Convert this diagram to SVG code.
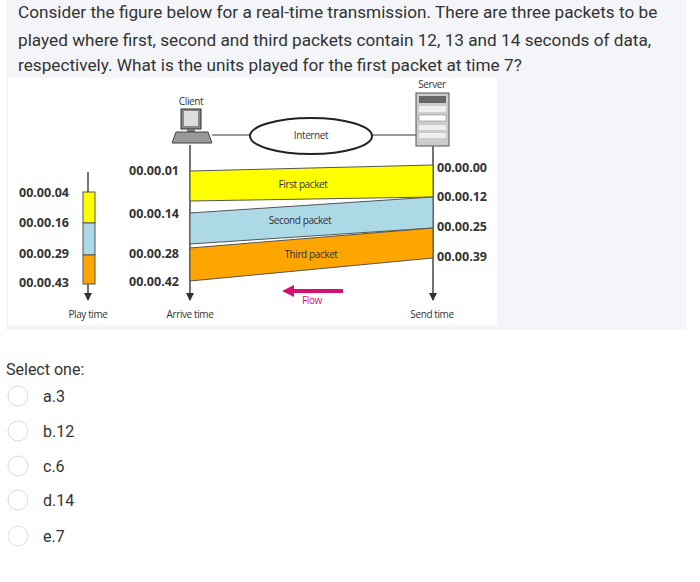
<svg xmlns="http://www.w3.org/2000/svg" width="700" height="582" viewBox="0 0 700 582">
<defs>
<marker id="ar" markerWidth="8" markerHeight="8" refX="7" refY="4" orient="auto" markerUnits="userSpaceOnUse"><path d="M0,0 L8,4 L0,8 z" fill="#333"/></marker>
</defs>
<style>
.q{font-family:Roboto,"Liberation Sans",sans-serif;font-size:17.2px;fill:#333}
.o{font-family:Roboto,"Liberation Sans",sans-serif;font-size:16px;fill:#333}
.t{font-family:"Open Sans","Liberation Sans",sans-serif;font-size:12.5px;font-weight:bold;fill:#333}
.s{font-family:"Open Sans","Liberation Sans",sans-serif;font-size:10px;fill:#333;text-anchor:middle;letter-spacing:-0.4px}
.ax{stroke:#444;stroke-width:1.5;fill:none}
.pk{stroke:#555;stroke-width:1}
.rad{fill:#fff;stroke:#ddd;stroke-width:1}
</style>
<rect width="700" height="582" fill="#fff"/>
<rect x="6" y="0" width="680" height="330" fill="#f3f5f8"/>
<text class="q" x="18" y="18">Consider the figure below for a real-time transmission. There are three packets to be</text>
<text class="q" x="18" y="46">played where first, second and third packets contain 12, 13 and 14 seconds of data,</text>
<text class="q" x="18" y="71">respectively. What is the units played for the first packet at time 7?</text>
<rect x="8" y="78" width="489" height="247" fill="#fff"/>
<g id="connectors">
<line class="ax" x1="88" y1="172" x2="88" y2="300" marker-end="url(#ar)"/>
<line class="ax" x1="190" y1="145" x2="190" y2="300" marker-end="url(#ar)"/>
<line class="ax" x1="433" y1="146" x2="433" y2="300" marker-end="url(#ar)"/>
<line x1="212" y1="135" x2="250" y2="135" stroke="#333" stroke-width="1.2"/>
<line x1="370" y1="135" x2="416" y2="135" stroke="#333" stroke-width="1.2"/>
</g>
<g id="play">
<rect class="pk" x="83" y="192" width="12" height="31" fill="#ffff00"/>
<rect class="pk" x="83" y="223" width="12" height="32" fill="#add8e6"/>
<rect class="pk" x="83" y="255" width="12" height="29" fill="#ffa500"/>
<text class="t" x="19" y="197">00.00.04</text>
<text class="t" x="19" y="227">00.00.16</text>
<text class="t" x="19" y="258">00.00.29</text>
<text class="t" x="19" y="287">00.00.43</text>
<text class="s" x="88" y="318">Play time</text>
</g>
<g id="first"><polygon class="pk" points="190,171 433,165 433,197 190,201" fill="#ffff00"/><text class="s" x="303" y="188">First packet</text></g>
<g id="second"><polygon class="pk" points="190,213 433,197 433,228 190,244" fill="#add8e6"/><text class="s" x="300" y="224">Second packet</text></g>
<g id="third"><polygon class="pk" points="190,248 433,228 433,258 190,281" fill="#ffa500"/><text class="s" x="311" y="258">Third packet</text></g>
<g id="arrive">
<text class="t" x="129" y="175">00.00.01</text>
<text class="t" x="129" y="218">00.00.14</text>
<text class="t" x="129" y="258">00.00.28</text>
<text class="t" x="129" y="286">00.00.42</text>
<text class="s" x="190" y="318">Arrive time</text>
</g>
<g id="send">
<text class="t" x="437" y="172">00.00.00</text>
<text class="t" x="437" y="201">00.00.12</text>
<text class="t" x="437" y="231">00.00.25</text>
<text class="t" x="437" y="261">00.00.39</text>
<text class="s" x="432" y="318">Send time</text>
</g>
<g id="client">
<text class="s" x="191" y="105">Client</text>
<rect x="181" y="109" width="20" height="20" fill="#888" stroke="#333"/>
<rect x="184" y="111" width="14" height="15" fill="#ddd"/>
<rect x="187" y="129" width="8" height="3" fill="#777"/>
<polygon points="176,132 208,132 212,143 172,143" fill="#999" stroke="#444"/>
</g>
<g id="internet">
<ellipse cx="311" cy="136" rx="61" ry="18" fill="#fff" stroke="#222" stroke-width="2"/>
<text class="s" x="311" y="139">Internet</text>
</g>
<g id="server">
<text class="s" x="432" y="88">Server</text>
<rect x="416" y="93" width="33" height="53" fill="#ccc" stroke="#555"/>
<rect x="419" y="96" width="27" height="7" fill="#666"/>
<rect x="419" y="106" width="27" height="6" fill="#eee"/>
<rect x="419" y="115" width="27" height="6" fill="#fff" stroke="#777" stroke-width="0.5"/>
<rect x="419" y="125" width="27" height="5" fill="#eee"/>
<rect x="419" y="133" width="27" height="5" fill="#eee"/>
</g>
<g id="flow">
<line x1="343" y1="291" x2="292" y2="291" stroke="#d6106e" stroke-width="4"/>
<polygon points="282,291 294,285 294,297" fill="#d6106e"/>
<text class="s" x="312" y="304" style="fill:#d6106e">Flow</text>
</g>
<text class="o" x="6" y="375">Select one:</text>
<circle class="rad" cx="18" cy="396" r="10"/><text class="o" x="43" y="402">a.3</text>
<circle class="rad" cx="18" cy="431" r="10"/><text class="o" x="43" y="437">b.12</text>
<circle class="rad" cx="18" cy="466" r="10"/><text class="o" x="43" y="472">c.6</text>
<circle class="rad" cx="18" cy="500" r="10"/><text class="o" x="43" y="506">d.14</text>
<circle class="rad" cx="18" cy="536" r="10"/><text class="o" x="43" y="542">e.7</text>
</svg>
